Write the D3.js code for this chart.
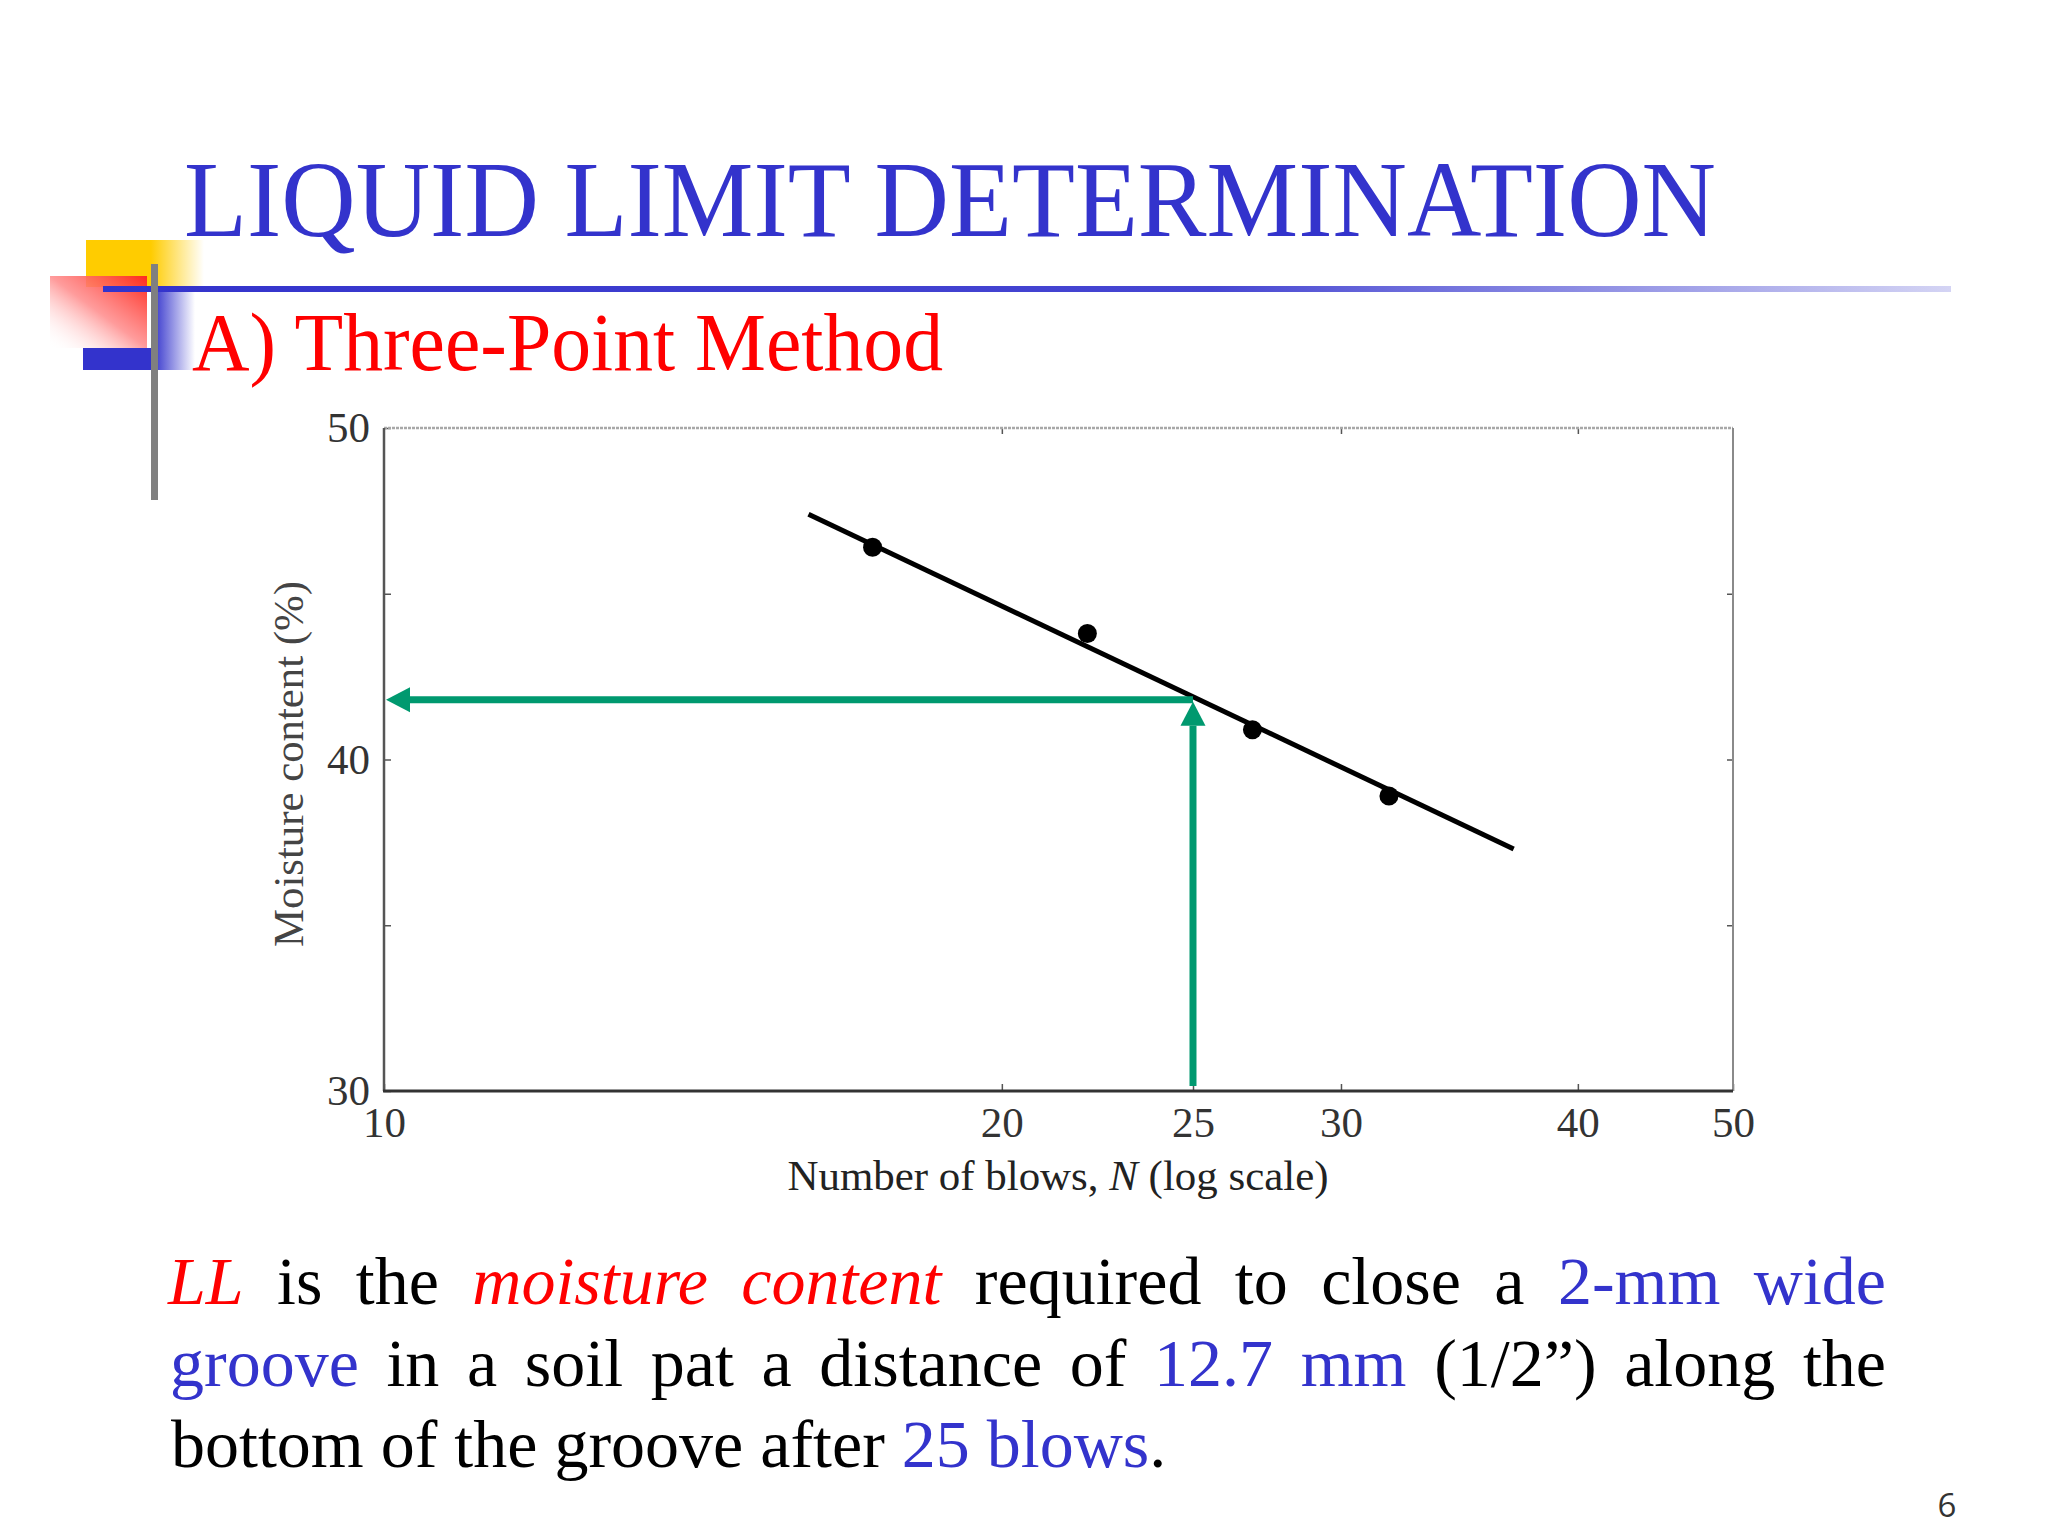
<!DOCTYPE html>
<html>
<head>
<meta charset="utf-8">
<script src="https://cdn.jsdelivr.net/npm/d3@7"></script>
<style>
  html, body { margin: 0; padding: 0; background: #fff; }
  svg { display: block; }
</style>
</head>
<body>
<svg id="slide" width="2048" height="1536"></svg>
<script>
// ---- data ----
const blows = [17.3, 22.1, 26.9, 31.8];
const moisture = [46.4, 43.8, 40.9, 38.9];
const fitBlows = [16.1, 37.0];
const fitMoisture = [47.4, 37.3];
const targetBlows = 25;
const liquidLimit = 41.8;
const xTicks = [10, 20, 25, 30, 40, 50];
const xTickLabels = ["10", "20", "25", "30", "40", "50"];
const yTicks = [30, 35, 40, 45, 50];
const yTickLabels = ["30", "", "40", "", "50"];

// body text, one array per line: words made of [text, colour, italic]
const line1 = [[["LL", "red", 1]], [["is"]], [["the"]], [["moisture", "red", 1]], [["content", "red", 1]],
  [["required"]], [["to"]], [["close"]], [["a"]], [["2-mm", "blue"]], [["wide", "blue"]]];
const line2 = [[["groove", "blue"]], [["in"]], [["a"]], [["soil"]], [["pat"]], [["a"]], [["distance"]], [["of"]],
  [["12.7", "blue"]], [["mm", "blue"]], [["(1/2\u201d)"]], [["along"]], [["the"]]];
const line3 = [[["bottom"]], [["of"]], [["the"]], [["groove"]], [["after"]], [["25", "blue"]], [["blows", "blue"], ["."]]];

// ---- layout ----
const serif = '"Liberation Serif", "Times New Roman", serif';
const colors = { red: "#ff0000", blue: "#3333cc", black: "#000" };
const plot = { left: 384, right: 1733, top: 428, bottom: 1091 };
// the printed log axis is not evenly spaced, so follow its tick spacing piecewise
const xTickFrac = [0, 0.458, 0.5997, 0.7094, 0.885, 1];

const svg = d3.select("#slide");
const defs = svg.append("defs");

function linGrad(id, x2, y2, stops) {
  const g = defs.append("linearGradient").attr("id", id)
    .attr("x1", 0).attr("y1", 0).attr("x2", x2).attr("y2", y2);
  stops.forEach(([o, c, a]) => g.append("stop").attr("offset", o).attr("stop-color", c).attr("stop-opacity", a));
}
linGrad("yel", 1, 0, [[0, "#ffcc00", 1], [0.55, "#ffcc00", 1], [1, "#ffcc00", 0]]);
linGrad("blu", 1, 0, [[0, "#3333cc", 1], [1, "#3333cc", 0]]);
linGrad("rule", 1, 0, [[0, "#3333cc", 1], [0.6, "#4646d2", 1], [1, "#d4d4f4", 1]]);
defs.append("linearGradient").attr("id", "red")
  .attr("x1", 1).attr("y1", 0).attr("x2", 0).attr("y2", 1)
  .call(g => {
    g.append("stop").attr("offset", 0).attr("stop-color", "#ff2a1e");
    g.append("stop").attr("offset", 0.5).attr("stop-color", "#ff8a8a").attr("stop-opacity", 0.85);
    g.append("stop").attr("offset", 1).attr("stop-color", "#ffffff").attr("stop-opacity", 0);
  });

// ---- slide decoration ----
const deco = svg.append("g");
deco.append("rect").attr("x", 86).attr("y", 240).attr("width", 118).attr("height", 47).attr("fill", "url(#yel)");
deco.append("rect").attr("x", 50).attr("y", 276).attr("width", 97).attr("height", 72).attr("fill", "url(#red)");
deco.append("rect").attr("x", 83).attr("y", 348).attr("width", 70).attr("height", 22).attr("fill", "#3333cc");
deco.append("rect").attr("x", 153).attr("y", 290).attr("width", 42).attr("height", 80).attr("fill", "url(#blu)");
deco.append("rect").attr("x", 103).attr("y", 286).attr("width", 1848).attr("height", 6).attr("fill", "url(#rule)");
deco.append("rect").attr("x", 151).attr("y", 264).attr("width", 7).attr("height", 236).attr("fill", "#808080");

svg.append("text").attr("x", 184).attr("y", 236)
  .attr("font-family", serif).attr("font-size", 108).attr("fill", "#3333cc")
  .attr("textLength", 1532).attr("lengthAdjust", "spacingAndGlyphs")
  .text("LIQUID LIMIT DETERMINATION");

svg.append("text").attr("x", 192).attr("y", 370)
  .attr("font-family", serif).attr("font-size", 82).attr("fill", "#ff0000")
  .attr("textLength", 751).attr("lengthAdjust", "spacingAndGlyphs")
  .text("A) Three-Point Method");

// ---- chart ----
const x = d3.scaleLog()
  .domain(xTicks)
  .range(xTickFrac.map(f => plot.left + f * (plot.right - plot.left)));
const y = d3.scaleLinear().domain([30, 50]).range([plot.bottom, plot.top]);

const chart = svg.append("g").attr("font-family", serif);

function styleAxis(g) {
  g.select(".domain").remove();
  g.selectAll(".tick line").attr("stroke", "#555").attr("stroke-width", 1.5);
  g.selectAll(".tick text").attr("fill", "#333").attr("font-family", serif).attr("font-size", 43);
}

chart.append("g")
  .attr("transform", `translate(0,${plot.bottom})`)
  .call(d3.axisBottom(x).tickValues(xTicks).tickFormat((d, i) => xTickLabels[i]).tickSize(-7).tickPadding(15))
  .call(styleAxis);
chart.append("g")
  .attr("transform", `translate(0,${plot.top})`)
  .call(d3.axisTop(x).tickValues([20, 30, 40]).tickFormat("").tickSize(-6))
  .call(styleAxis);
chart.append("g")
  .attr("transform", `translate(${plot.left},0)`)
  .call(d3.axisLeft(y).tickValues(yTicks).tickFormat((d, i) => yTickLabels[i]).tickSize(-7).tickPadding(14))
  .call(styleAxis);
chart.append("g")
  .attr("transform", `translate(${plot.right},0)`)
  .call(d3.axisRight(y).tickValues([35, 40, 45]).tickFormat("").tickSize(-6))
  .call(styleAxis);

// frame: printed dark on left/bottom, faint on top/right
chart.append("line").attr("x1", plot.left).attr("x2", plot.right).attr("y1", plot.top).attr("y2", plot.top)
  .attr("stroke", "#a8a8a8").attr("stroke-width", 2.5).attr("stroke-dasharray", "3 1");
chart.append("line").attr("x1", plot.right).attr("x2", plot.right).attr("y1", plot.top).attr("y2", plot.bottom)
  .attr("stroke", "#8a8a8a").attr("stroke-width", 2);
chart.append("line").attr("x1", plot.left).attr("x2", plot.left).attr("y1", plot.top).attr("y2", plot.bottom)
  .attr("stroke", "#555").attr("stroke-width", 2.5);
chart.append("line").attr("x1", plot.left - 1).attr("x2", plot.right).attr("y1", plot.bottom).attr("y2", plot.bottom)
  .attr("stroke", "#333").attr("stroke-width", 3);

// best-fit line and test points
chart.append("path")
  .datum(fitBlows.map((n, i) => [n, fitMoisture[i]]))
  .attr("d", d3.line().x(d => x(d[0])).y(d => y(d[1])))
  .attr("stroke", "#000").attr("stroke-width", 5).attr("fill", "none");
chart.selectAll("circle.pt")
  .data(blows.map((n, i) => [n, moisture[i]]))
  .join("circle").attr("class", "pt")
  .attr("cx", d => x(d[0])).attr("cy", d => y(d[1])).attr("r", 9.5).attr("fill", "#000");

// green read-off arrows at N = 25
const green = "#00996f";
const xl = x(targetBlows), yl = y(liquidLimit), head = 24, half = 12.5;
chart.append("line").attr("x1", xl).attr("x2", x(10) + 2 + head).attr("y1", yl).attr("y2", yl)
  .attr("stroke", green).attr("stroke-width", 7);
chart.append("path")
  .attr("d", d3.line()([[x(10) + 2, yl], [x(10) + 2 + head, yl - half], [x(10) + 2 + head, yl + half]]) + "Z")
  .attr("fill", green);
chart.append("line").attr("x1", xl).attr("x2", xl).attr("y1", y(30) - 5).attr("y2", yl + 2 + head)
  .attr("stroke", green).attr("stroke-width", 7);
chart.append("path")
  .attr("d", d3.line()([[xl, yl + 2], [xl - half, yl + 2 + head], [xl + half, yl + 2 + head]]) + "Z")
  .attr("fill", green);

// axis titles
const xt = chart.append("text").attr("x", 1058).attr("y", 1190)
  .attr("text-anchor", "middle").attr("font-size", 42).attr("fill", "#222")
  .attr("textLength", 541).attr("lengthAdjust", "spacingAndGlyphs");
xt.append("tspan").text("Number of blows, ");
xt.append("tspan").attr("font-style", "italic").text("N");
xt.append("tspan").text(" (log scale)");

chart.append("text").attr("transform", "translate(303,764) rotate(-90)")
  .attr("text-anchor", "middle").attr("font-size", 42).attr("fill", "#444")
  .attr("textLength", 366).attr("lengthAdjust", "spacingAndGlyphs")
  .text("Moisture content (%)");

// ---- justified body text ----
function layoutLine(words, baseline, x0, x1) {
  const g = svg.append("g").attr("font-family", serif).attr("font-size", 68);
  const nodes = words.map(w => {
    const t = g.append("text").attr("y", baseline);
    w.forEach(([s, c, it]) => t.append("tspan").text(s)
      .attr("fill", colors[c || "black"]).attr("font-style", it ? "italic" : null));
    return t;
  });
  const widths = nodes.map(n => n.node().getComputedTextLength());
  const gap = x1 == null ? 0.25 * 68 : (x1 - x0 - d3.sum(widths)) / (nodes.length - 1);
  let cx = x0;
  nodes.forEach((n, i) => { n.attr("x", cx); cx += widths[i] + gap; });
}
layoutLine(line1, 1304, 168, 1886);
layoutLine(line2, 1386, 170, 1886);
layoutLine(line3, 1467, 171, null);

svg.append("text").attr("x", 1947).attr("y", 1517).attr("text-anchor", "middle")
  .attr("font-family", '"Open Sans", "Noto Sans", sans-serif').attr("font-size", 33).attr("fill", "#333")
  .text("6");
</script>
</body>
</html>
